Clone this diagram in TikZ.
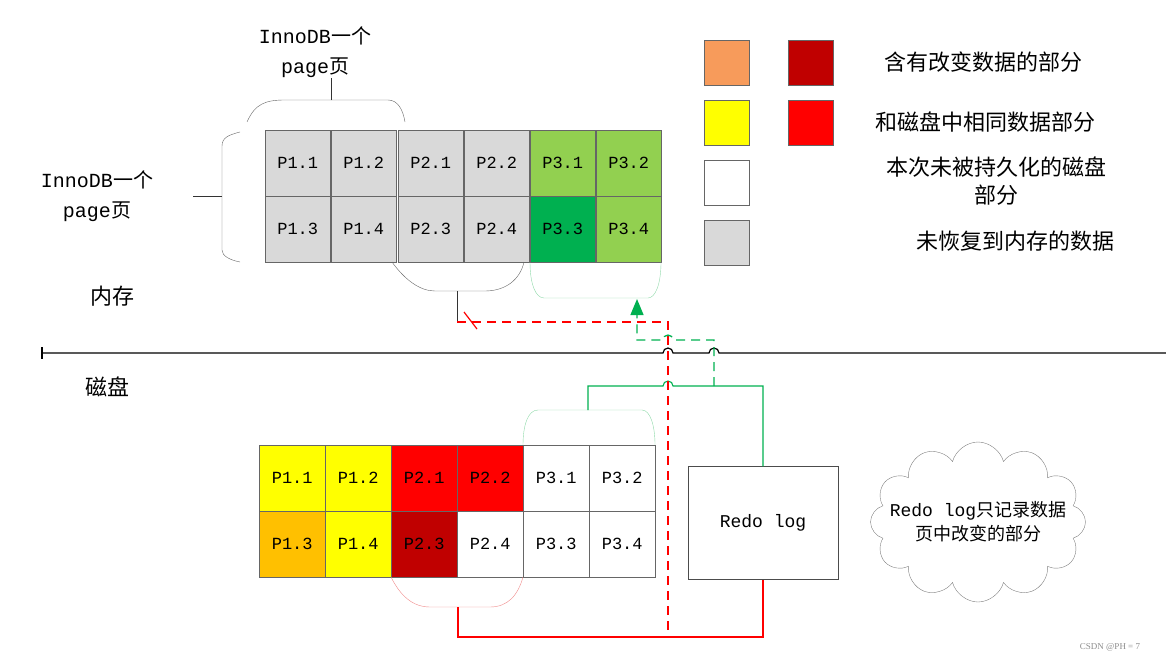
\documentclass[tikz,border=0pt]{standalone}
\usepackage{fontspec}
\setmainfont{Liberation Serif}
\newfontfamily\mono{Liberation Mono}
\newfontfamily\cjk{Noto Sans CJK SC}
\usetikzlibrary{shapes.symbols,arrows.meta}
\definecolor{gry}{HTML}{D9D9D9}
\definecolor{lgr}{HTML}{92D050}
\definecolor{dgr}{HTML}{00B050}
\definecolor{yel}{HTML}{FFFF00}
\definecolor{org}{HTML}{FFC000}
\definecolor{red1}{HTML}{FF0000}
\definecolor{dred}{HTML}{C00000}
\definecolor{lorg}{HTML}{F79B5B}
\definecolor{bgrn}{HTML}{8ED9A8}
\definecolor{pnk}{HTML}{F08A8A}
\tikzset{
 cell/.style={draw=black!60,minimum width=66pt,minimum height=66pt,inner sep=0,anchor=north west,font=\mono\fontsize{17}{17}\selectfont},
 leg/.style={draw=black!60,minimum width=45pt,minimum height=45pt,inner sep=0,anchor=north west},
 ltxt/.style={font=\cjk\fontsize{22}{28}\selectfont,align=center},
 rdash/.style={red1,dash pattern=on 9pt off 6pt,line width=1.3pt},
 gdash/.style={dgr,dash pattern=on 9pt off 6pt,line width=1.3pt},
}
\newcommand{\cj}[1]{{\cjk #1}}
\begin{document}
\begin{tikzpicture}[x=1pt,y=-1pt]
\useasboundingbox (0,0) rectangle (1166,661);
% top grid
\foreach \n/\x/\y/\c in {11/265/130/gry,12/331/130/gry,21/398/130/gry,22/464/130/gry,31/530/130/lgr,32/596/130/lgr,
 13/265/196/gry,14/331/196/gry,23/398/196/gry,24/464/196/gry,33/530/196/dgr,34/596/196/lgr}{
 \node[cell,fill=\c,minimum width=65pt] (t\n) at (\x,\y) {\pgfmathparse{int(\n/10)}P\pgfmathresult.\pgfmathparse{int(mod(\n,10))}\pgfmathresult};}
% bottom grid
\foreach \n/\x/\y/\c in {11/259/445/yel,12/325/445/yel,21/391/445/red1,22/457/445/red1,31/523/445/white,32/589/445/white,
 13/259/511/org,14/325/511/yel,23/391/511/dred,24/457/511/white,33/523/511/white,34/589/511/white}{
 \node[cell,fill=\c] (b\n) at (\x,\y) {\pgfmathparse{int(\n/10)}P\pgfmathresult.\pgfmathparse{int(mod(\n,10))}\pgfmathresult};}
% legend
\node[leg,fill=lorg] (l1) at (704,40) {};
\node[leg,fill=dred] (l2) at (788,40) {};
\node[leg,fill=yel] (l3) at (704,100) {};
\node[leg,fill=red1] (l4) at (788,100) {};
\node[leg,fill=white] (l5) at (704,160) {};
\node[leg,fill=gry] (l6) at (704,220) {};
\node[ltxt] (x1) at (983,62) {含有改变数据的部分};
\node[ltxt] (x2) at (985,122) {和磁盘中相同数据部分};
\node[ltxt] (x3) at (996,181) {本次未被持久化的磁盘\\部分};
\node[ltxt] (x4) at (1015,241) {未恢复到内存的数据};
% labels
\node[font=\mono\fontsize{20}{30}\selectfont,align=center] (lt) at (315,52) {InnoDB\cj{一个}\\page\cj{页}};
\node[font=\mono\fontsize{20}{30}\selectfont,align=center] (ll) at (97,196) {InnoDB\cj{一个}\\page\cj{页}};
\node[ltxt] (mem) at (112,296) {内存};
\node[ltxt] (disk) at (107,387) {磁盘};
% braces
\draw[black!60] (247,122) .. controls (255,104) and (265,100) .. (285,100) -- (388,100) .. controls (398,100) and (403,110) .. (405,122);
\draw[black!80] (331,100) -- (331,78);
\draw[black!60] (240,132) .. controls (228,135) and (222,138) .. (222,146) -- (222,250) .. controls (222,256) and (230,260) .. (240,262);
\draw[black!80] (222,196) -- (193,196);
\draw[black!60] (392,262) .. controls (405,280) and (420,291) .. (435,291) -- (485,291) .. controls (505,291) and (520,280) .. (524,262);
\draw[black!80] (457,291) -- (457,322);
\draw[bgrn] (530,262) .. controls (530,285) and (536,298) .. (544,298) -- (648,298) .. controls (655,298) and (661,285) .. (661,262);
\draw[pnk] (391,577) .. controls (400,595) and (412,607) .. (430,607) -- (490,607) .. controls (508,607) and (518,595) .. (523,577);
\draw[bgrn] (523,445) .. controls (523,425) and (528,410) .. (538,410) -- (642,410) .. controls (650,410) and (655,425) .. (655,445);
% separator
\coordinate (s0) at (42,353);
\draw[line width=1.2pt] (s0) -- (663,353) arc[start angle=180,end angle=360,radius=5] -- (709,353) arc[start angle=180,end angle=360,radius=5] -- (1166,353);
\draw[line width=1.2pt] (42,347) -- (42,359);
% redo box and cloud
\node[draw=black!70,minimum width=150pt,minimum height=113pt,inner sep=0,font=\mono\fontsize{18}{18}\selectfont] (redo) at (763,523) {Redo log};
\node[cloud,draw=black!50,cloud puffs=12,aspect=1.3,minimum width=215pt,minimum height=160pt,inner sep=0] (cl) at (978,522) {};
\node[align=center,font=\mono\fontsize{18}{24}\selectfont] (clt) at (cl.center) {Redo log\cj{只记录数据}\\\cj{页中改变的部分}};
% green solid
\draw[dgr,line width=1.1pt] (redo.north) -- (763,386) -- (673,386) arc[start angle=360,end angle=180,radius=5] -- (588,386) -- (588,410);
% red solid
\draw[red1,line width=1.1pt] (458,607) -- (458,637) -- (763,637) -- (redo.south);
% red dashed
\coordinate (rc) at (457,322);
\draw[rdash] (rc) -- (668,322) -- (668,637);
\draw[red1,line width=1.2pt] (464,312) -- (477,329);
% green dashed
\draw[gdash,-{Triangle[length=16pt,width=13pt]}] (714,386) -- (714,340) -- (673,340) arc[start angle=360,end angle=180,radius=5] -- (637,340) -- (637,299);
% watermark
\node[text=black!45,font=\fontsize{9}{9}\selectfont] (wm) at (1110,647) {CSDN @PH = 7};
\end{tikzpicture}
\end{document}
